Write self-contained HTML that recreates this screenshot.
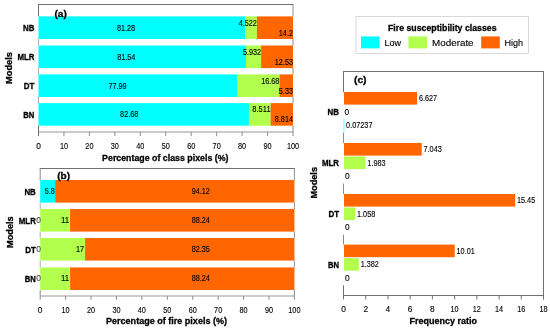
<!DOCTYPE html>
<html><head><meta charset="utf-8"><title>Fire susceptibility classes</title>
<style>
html,body{margin:0;padding:0;background:#fff;}
body{width:550px;height:331px;overflow:hidden;}
svg{display:block;font-family:"Liberation Sans",sans-serif;}
.b{font-weight:bold;fill:#000;stroke:#000;stroke-width:0.3px;}
.r{fill:#000;stroke:#000;stroke-width:0.12px;}
.g{fill:#444;stroke:#444;stroke-width:0.1px;}
</style></head><body>
<svg width="550" height="331" viewBox="0 0 550 331">
<rect x="0" y="0" width="550" height="331" fill="#ffffff"/>
<line x1="38.00" y1="4.50" x2="293.50" y2="4.50" stroke="#6f6f6f" stroke-width="1"/>
<line x1="293.00" y1="4.50" x2="293.00" y2="132.00" stroke="#8c8c8c" stroke-width="1"/>
<line x1="38.50" y1="132.00" x2="293.50" y2="132.00" stroke="#7a7a7a" stroke-width="0.8"/>
<line x1="38.50" y1="4.50" x2="38.50" y2="16.40" stroke="#6f6f6f" stroke-width="1"/>
<line x1="38.50" y1="39.00" x2="38.50" y2="45.50" stroke="#8c8c8c" stroke-width="0.7"/>
<line x1="38.50" y1="68.10" x2="38.50" y2="74.40" stroke="#8c8c8c" stroke-width="0.7"/>
<line x1="38.50" y1="97.00" x2="38.50" y2="103.10" stroke="#8c8c8c" stroke-width="0.7"/>
<line x1="38.50" y1="125.70" x2="38.50" y2="136.00" stroke="#6f6f6f" stroke-width="1"/>
<rect x="292.00" y="16.40" width="2.00" height="22.60" fill="#fff"/>
<rect x="38.50" y="16.40" width="206.86" height="22.60" fill="#00ffff"/>
<rect x="245.36" y="16.40" width="11.51" height="22.60" fill="#b2ff4d"/>
<rect x="256.87" y="16.40" width="36.13" height="22.60" fill="#ff6600"/>
<text x="34.40" y="31.00" font-size="8.4" text-anchor="end" class="b" textLength="11.4" lengthAdjust="spacingAndGlyphs">NB</text>
<text x="126.00" y="30.50" font-size="8.4" text-anchor="middle" class="r" textLength="18.24" lengthAdjust="spacingAndGlyphs">81.28</text>
<text x="256.87" y="25.70" font-size="8.4" text-anchor="end" class="r" textLength="18.24" lengthAdjust="spacingAndGlyphs">4.522</text>
<text x="293.00" y="35.70" font-size="8.4" text-anchor="end" class="r" textLength="14.18" lengthAdjust="spacingAndGlyphs">14.2</text>
<rect x="292.00" y="45.50" width="2.00" height="22.60" fill="#fff"/>
<rect x="38.50" y="45.50" width="207.52" height="22.60" fill="#00ffff"/>
<rect x="246.02" y="45.50" width="15.10" height="22.60" fill="#b2ff4d"/>
<rect x="261.12" y="45.50" width="31.88" height="22.60" fill="#ff6600"/>
<text x="34.40" y="60.10" font-size="8.4" text-anchor="end" class="b" textLength="17.0" lengthAdjust="spacingAndGlyphs">MLR</text>
<text x="126.30" y="59.60" font-size="8.4" text-anchor="middle" class="r" textLength="18.24" lengthAdjust="spacingAndGlyphs">81.54</text>
<text x="261.12" y="54.80" font-size="8.4" text-anchor="end" class="r" textLength="18.24" lengthAdjust="spacingAndGlyphs">5.932</text>
<text x="293.00" y="64.80" font-size="8.4" text-anchor="end" class="r" textLength="18.24" lengthAdjust="spacingAndGlyphs">12.53</text>
<rect x="292.00" y="74.40" width="2.00" height="22.60" fill="#fff"/>
<rect x="38.50" y="74.40" width="198.48" height="22.60" fill="#00ffff"/>
<rect x="236.98" y="74.40" width="42.45" height="22.60" fill="#b2ff4d"/>
<rect x="279.44" y="74.40" width="13.56" height="22.60" fill="#ff6600"/>
<text x="34.40" y="89.00" font-size="8.4" text-anchor="end" class="b" textLength="10.6" lengthAdjust="spacingAndGlyphs">DT</text>
<text x="117.50" y="88.50" font-size="8.4" text-anchor="middle" class="r" textLength="18.24" lengthAdjust="spacingAndGlyphs">77.99</text>
<text x="279.44" y="83.70" font-size="8.4" text-anchor="end" class="r" textLength="18.24" lengthAdjust="spacingAndGlyphs">16.68</text>
<text x="293.00" y="93.70" font-size="8.4" text-anchor="end" class="r" textLength="14.18" lengthAdjust="spacingAndGlyphs">5.33</text>
<rect x="292.00" y="103.10" width="2.00" height="22.60" fill="#fff"/>
<rect x="38.50" y="103.10" width="210.42" height="22.60" fill="#00ffff"/>
<rect x="248.92" y="103.10" width="21.66" height="22.60" fill="#b2ff4d"/>
<rect x="270.58" y="103.10" width="22.42" height="22.60" fill="#ff6600"/>
<text x="34.40" y="117.70" font-size="8.4" text-anchor="end" class="b" textLength="11.1" lengthAdjust="spacingAndGlyphs">BN</text>
<text x="129.20" y="117.20" font-size="8.4" text-anchor="middle" class="r" textLength="18.24" lengthAdjust="spacingAndGlyphs">82.68</text>
<text x="270.58" y="112.40" font-size="8.4" text-anchor="end" class="r" textLength="18.24" lengthAdjust="spacingAndGlyphs">8.511</text>
<text x="293.00" y="122.40" font-size="8.4" text-anchor="end" class="r" textLength="18.24" lengthAdjust="spacingAndGlyphs">8.814</text>
<line x1="63.95" y1="132.00" x2="63.95" y2="136.00" stroke="#8c8c8c" stroke-width="1"/>
<line x1="89.40" y1="132.00" x2="89.40" y2="136.00" stroke="#8c8c8c" stroke-width="1"/>
<line x1="114.85" y1="132.00" x2="114.85" y2="136.00" stroke="#8c8c8c" stroke-width="1"/>
<line x1="140.30" y1="132.00" x2="140.30" y2="136.00" stroke="#8c8c8c" stroke-width="1"/>
<line x1="165.75" y1="132.00" x2="165.75" y2="136.00" stroke="#8c8c8c" stroke-width="1"/>
<line x1="191.20" y1="132.00" x2="191.20" y2="136.00" stroke="#8c8c8c" stroke-width="1"/>
<line x1="216.65" y1="132.00" x2="216.65" y2="136.00" stroke="#8c8c8c" stroke-width="1"/>
<line x1="242.10" y1="132.00" x2="242.10" y2="136.00" stroke="#8c8c8c" stroke-width="1"/>
<line x1="267.55" y1="132.00" x2="267.55" y2="136.00" stroke="#8c8c8c" stroke-width="1"/>
<line x1="293.00" y1="132.00" x2="293.00" y2="136.00" stroke="#8c8c8c" stroke-width="1"/>
<text x="38.50" y="148.80" font-size="8.4" text-anchor="middle" class="r">0</text>
<text x="63.95" y="148.80" font-size="8.4" text-anchor="middle" class="r" textLength="8.11" lengthAdjust="spacingAndGlyphs">10</text>
<text x="89.40" y="148.80" font-size="8.4" text-anchor="middle" class="r" textLength="8.11" lengthAdjust="spacingAndGlyphs">20</text>
<text x="114.85" y="148.80" font-size="8.4" text-anchor="middle" class="r" textLength="8.11" lengthAdjust="spacingAndGlyphs">30</text>
<text x="140.30" y="148.80" font-size="8.4" text-anchor="middle" class="r" textLength="8.11" lengthAdjust="spacingAndGlyphs">40</text>
<text x="165.75" y="148.80" font-size="8.4" text-anchor="middle" class="r" textLength="8.11" lengthAdjust="spacingAndGlyphs">50</text>
<text x="191.20" y="148.80" font-size="8.4" text-anchor="middle" class="r" textLength="8.11" lengthAdjust="spacingAndGlyphs">60</text>
<text x="216.65" y="148.80" font-size="8.4" text-anchor="middle" class="r" textLength="8.11" lengthAdjust="spacingAndGlyphs">70</text>
<text x="242.10" y="148.80" font-size="8.4" text-anchor="middle" class="r" textLength="8.11" lengthAdjust="spacingAndGlyphs">80</text>
<text x="267.55" y="148.80" font-size="8.4" text-anchor="middle" class="r" textLength="8.11" lengthAdjust="spacingAndGlyphs">90</text>
<text x="293.00" y="148.80" font-size="8.4" text-anchor="middle" class="r" textLength="12.17" lengthAdjust="spacingAndGlyphs">100</text>
<text x="165.30" y="160.60" font-size="9.4" text-anchor="middle" class="b" textLength="126.4" lengthAdjust="spacingAndGlyphs">Percentage of class pixels (%)</text>
<text x="54.50" y="16.50" font-size="9.9" text-anchor="start" class="b" textLength="12.3" lengthAdjust="spacingAndGlyphs">(a)</text>
<text transform="translate(11.8,68) rotate(-90)" font-size="9.4" text-anchor="middle" class="b" textLength="32" lengthAdjust="spacingAndGlyphs">Models</text>
<line x1="39.70" y1="168.50" x2="294.90" y2="168.50" stroke="#6f6f6f" stroke-width="1"/>
<line x1="294.40" y1="168.50" x2="294.40" y2="296.00" stroke="#8c8c8c" stroke-width="1"/>
<line x1="40.20" y1="296.00" x2="294.90" y2="296.00" stroke="#9a9a9a" stroke-width="1"/>
<line x1="40.20" y1="168.50" x2="40.20" y2="180.00" stroke="#8c8c8c" stroke-width="1"/>
<line x1="40.20" y1="202.60" x2="40.20" y2="209.00" stroke="#8c8c8c" stroke-width="0.7"/>
<line x1="40.20" y1="231.60" x2="40.20" y2="238.00" stroke="#8c8c8c" stroke-width="0.7"/>
<line x1="40.20" y1="260.60" x2="40.20" y2="267.40" stroke="#8c8c8c" stroke-width="0.7"/>
<line x1="40.20" y1="290.00" x2="40.20" y2="299.80" stroke="#8c8c8c" stroke-width="1"/>
<rect x="293.40" y="180.00" width="2.00" height="22.60" fill="#fff"/>
<rect x="40.20" y="180.00" width="14.95" height="22.60" fill="#00ffff"/>
<rect x="55.15" y="180.00" width="239.25" height="22.60" fill="#ff6600"/>
<text x="35.80" y="194.60" font-size="8.4" text-anchor="end" class="b" textLength="11.4" lengthAdjust="spacingAndGlyphs">NB</text>
<text x="54.85" y="194.00" font-size="8.4" text-anchor="end" class="r" textLength="10.13" lengthAdjust="spacingAndGlyphs">5.8</text>
<text x="200.80" y="194.00" font-size="8.4" text-anchor="middle" class="r" textLength="18.24" lengthAdjust="spacingAndGlyphs">94.12</text>
<rect x="293.40" y="209.00" width="2.00" height="22.60" fill="#fff"/>
<rect x="40.20" y="209.00" width="29.89" height="22.60" fill="#b2ff4d"/>
<rect x="70.09" y="209.00" width="224.31" height="22.60" fill="#ff6600"/>
<text x="35.80" y="223.60" font-size="8.4" text-anchor="end" class="b" textLength="17.0" lengthAdjust="spacingAndGlyphs">MLR</text>
<text x="36.20" y="223.00" font-size="8.4" text-anchor="start" class="g">0</text>
<text x="69.09" y="223.00" font-size="8.4" text-anchor="end" class="r" textLength="8.11" lengthAdjust="spacingAndGlyphs">11</text>
<text x="200.80" y="223.00" font-size="8.4" text-anchor="middle" class="r" textLength="18.24" lengthAdjust="spacingAndGlyphs">88.24</text>
<rect x="293.40" y="238.00" width="2.00" height="22.60" fill="#fff"/>
<rect x="40.20" y="238.00" width="44.87" height="22.60" fill="#b2ff4d"/>
<rect x="85.07" y="238.00" width="209.33" height="22.60" fill="#ff6600"/>
<text x="35.80" y="252.60" font-size="8.4" text-anchor="end" class="b" textLength="10.6" lengthAdjust="spacingAndGlyphs">DT</text>
<text x="36.20" y="252.00" font-size="8.4" text-anchor="start" class="g">0</text>
<text x="84.07" y="252.00" font-size="8.4" text-anchor="end" class="r" textLength="8.11" lengthAdjust="spacingAndGlyphs">17</text>
<text x="200.80" y="252.00" font-size="8.4" text-anchor="middle" class="r" textLength="18.24" lengthAdjust="spacingAndGlyphs">82.35</text>
<rect x="293.40" y="267.40" width="2.00" height="22.60" fill="#fff"/>
<rect x="40.20" y="267.40" width="29.89" height="22.60" fill="#b2ff4d"/>
<rect x="70.09" y="267.40" width="224.31" height="22.60" fill="#ff6600"/>
<text x="35.80" y="282.00" font-size="8.4" text-anchor="end" class="b" textLength="11.1" lengthAdjust="spacingAndGlyphs">BN</text>
<text x="36.20" y="281.40" font-size="8.4" text-anchor="start" class="g">0</text>
<text x="69.09" y="281.40" font-size="8.4" text-anchor="end" class="r" textLength="8.11" lengthAdjust="spacingAndGlyphs">11</text>
<text x="200.80" y="281.40" font-size="8.4" text-anchor="middle" class="r" textLength="18.24" lengthAdjust="spacingAndGlyphs">88.24</text>
<line x1="65.62" y1="296.00" x2="65.62" y2="299.80" stroke="#8c8c8c" stroke-width="1"/>
<line x1="91.04" y1="296.00" x2="91.04" y2="299.80" stroke="#8c8c8c" stroke-width="1"/>
<line x1="116.46" y1="296.00" x2="116.46" y2="299.80" stroke="#8c8c8c" stroke-width="1"/>
<line x1="141.88" y1="296.00" x2="141.88" y2="299.80" stroke="#8c8c8c" stroke-width="1"/>
<line x1="167.30" y1="296.00" x2="167.30" y2="299.80" stroke="#8c8c8c" stroke-width="1"/>
<line x1="192.72" y1="296.00" x2="192.72" y2="299.80" stroke="#8c8c8c" stroke-width="1"/>
<line x1="218.14" y1="296.00" x2="218.14" y2="299.80" stroke="#8c8c8c" stroke-width="1"/>
<line x1="243.56" y1="296.00" x2="243.56" y2="299.80" stroke="#8c8c8c" stroke-width="1"/>
<line x1="268.98" y1="296.00" x2="268.98" y2="299.80" stroke="#8c8c8c" stroke-width="1"/>
<line x1="294.40" y1="296.00" x2="294.40" y2="299.80" stroke="#8c8c8c" stroke-width="1"/>
<text x="40.20" y="312.80" font-size="8.4" text-anchor="middle" class="r">0</text>
<text x="65.62" y="312.80" font-size="8.4" text-anchor="middle" class="r" textLength="8.11" lengthAdjust="spacingAndGlyphs">10</text>
<text x="91.04" y="312.80" font-size="8.4" text-anchor="middle" class="r" textLength="8.11" lengthAdjust="spacingAndGlyphs">20</text>
<text x="116.46" y="312.80" font-size="8.4" text-anchor="middle" class="r" textLength="8.11" lengthAdjust="spacingAndGlyphs">30</text>
<text x="141.88" y="312.80" font-size="8.4" text-anchor="middle" class="r" textLength="8.11" lengthAdjust="spacingAndGlyphs">40</text>
<text x="167.30" y="312.80" font-size="8.4" text-anchor="middle" class="r" textLength="8.11" lengthAdjust="spacingAndGlyphs">50</text>
<text x="192.72" y="312.80" font-size="8.4" text-anchor="middle" class="r" textLength="8.11" lengthAdjust="spacingAndGlyphs">60</text>
<text x="218.14" y="312.80" font-size="8.4" text-anchor="middle" class="r" textLength="8.11" lengthAdjust="spacingAndGlyphs">70</text>
<text x="243.56" y="312.80" font-size="8.4" text-anchor="middle" class="r" textLength="8.11" lengthAdjust="spacingAndGlyphs">80</text>
<text x="268.98" y="312.80" font-size="8.4" text-anchor="middle" class="r" textLength="8.11" lengthAdjust="spacingAndGlyphs">90</text>
<text x="294.40" y="312.80" font-size="8.4" text-anchor="middle" class="r" textLength="12.17" lengthAdjust="spacingAndGlyphs">100</text>
<text x="166.50" y="324.40" font-size="9.4" text-anchor="middle" class="b" textLength="121" lengthAdjust="spacingAndGlyphs">Percentage of fire pixels (%)</text>
<text x="57.20" y="178.50" font-size="9.9" text-anchor="start" class="b" textLength="12.8" lengthAdjust="spacingAndGlyphs">(b)</text>
<text transform="translate(13.1,232.1) rotate(-90)" font-size="9.4" text-anchor="middle" class="b" textLength="31.6" lengthAdjust="spacingAndGlyphs">Models</text>
<rect x="356" y="16.5" width="172.5" height="37" fill="#fff" stroke="#d9d9d9" stroke-width="1"/>
<text x="442.30" y="31.00" font-size="9.4" text-anchor="middle" class="b" textLength="108.6" lengthAdjust="spacingAndGlyphs">Fire susceptibility classes</text>
<rect x="361.00" y="36.40" width="18.60" height="12.00" fill="#00ffff"/>
<text x="384.40" y="45.60" font-size="9.0" text-anchor="start" class="r" textLength="16.6" lengthAdjust="spacingAndGlyphs">Low</text>
<rect x="408.40" y="36.40" width="18.60" height="12.00" fill="#b2ff4d"/>
<text x="432.00" y="45.60" font-size="9.0" text-anchor="start" class="r" textLength="41.6" lengthAdjust="spacingAndGlyphs">Moderate</text>
<rect x="481.20" y="36.40" width="18.60" height="12.00" fill="#ff6600"/>
<text x="504.40" y="45.60" font-size="9.0" text-anchor="start" class="r" textLength="18.6" lengthAdjust="spacingAndGlyphs">High</text>
<line x1="343.00" y1="71.50" x2="544.00" y2="71.50" stroke="#6f6f6f" stroke-width="1"/>
<line x1="543.50" y1="71.50" x2="543.50" y2="299.40" stroke="#6f6f6f" stroke-width="1"/>
<line x1="343.50" y1="295.50" x2="543.50" y2="295.50" stroke="#6f6f6f" stroke-width="1"/>
<line x1="343.50" y1="71.50" x2="343.50" y2="92.00" stroke="#6f6f6f" stroke-width="1"/>
<line x1="343.50" y1="132.50" x2="343.50" y2="143.00" stroke="#6f6f6f" stroke-width="0.8"/>
<line x1="343.50" y1="183.50" x2="343.50" y2="194.00" stroke="#6f6f6f" stroke-width="0.8"/>
<line x1="343.50" y1="234.50" x2="343.50" y2="244.60" stroke="#6f6f6f" stroke-width="0.8"/>
<line x1="343.50" y1="285.30" x2="343.50" y2="299.40" stroke="#6f6f6f" stroke-width="1"/>
<rect x="344.00" y="92.00" width="73.13" height="12.60" fill="#ff6600"/>
<text x="418.93" y="101.00" font-size="8.4" text-anchor="start" class="r" textLength="18.24" lengthAdjust="spacingAndGlyphs">6.627</text>
<text x="344.50" y="114.50" font-size="8.4" text-anchor="start" class="r">0</text>
<rect x="343.30" y="119.00" width="1.30" height="12.60" fill="#8ff"/>
<text x="346.10" y="128.00" font-size="8.4" text-anchor="start" class="r" textLength="26.35" lengthAdjust="spacingAndGlyphs">0.07237</text>
<text x="339.00" y="115.10" font-size="8.4" text-anchor="end" class="b" textLength="11.4" lengthAdjust="spacingAndGlyphs">NB</text>
<rect x="344.00" y="143.00" width="77.76" height="12.60" fill="#ff6600"/>
<text x="423.56" y="152.00" font-size="8.4" text-anchor="start" class="r" textLength="18.24" lengthAdjust="spacingAndGlyphs">7.043</text>
<rect x="344.00" y="156.50" width="21.53" height="12.60" fill="#b2ff4d"/>
<text x="367.33" y="165.50" font-size="8.4" text-anchor="start" class="r" textLength="18.24" lengthAdjust="spacingAndGlyphs">1.983</text>
<text x="344.90" y="179.00" font-size="8.4" text-anchor="start" class="r">0</text>
<text x="339.00" y="166.10" font-size="8.4" text-anchor="end" class="b" textLength="17.0" lengthAdjust="spacingAndGlyphs">MLR</text>
<rect x="344.00" y="194.00" width="171.17" height="12.60" fill="#ff6600"/>
<text x="516.97" y="203.00" font-size="8.4" text-anchor="start" class="r" textLength="18.24" lengthAdjust="spacingAndGlyphs">15.45</text>
<rect x="344.00" y="207.50" width="11.26" height="12.60" fill="#b2ff4d"/>
<text x="357.06" y="216.50" font-size="8.4" text-anchor="start" class="r" textLength="18.24" lengthAdjust="spacingAndGlyphs">1.058</text>
<text x="344.90" y="230.00" font-size="8.4" text-anchor="start" class="r">0</text>
<text x="339.00" y="217.10" font-size="8.4" text-anchor="end" class="b" textLength="10.6" lengthAdjust="spacingAndGlyphs">DT</text>
<rect x="344.00" y="244.60" width="110.72" height="12.60" fill="#ff6600"/>
<text x="456.52" y="253.60" font-size="8.4" text-anchor="start" class="r" textLength="18.24" lengthAdjust="spacingAndGlyphs">10.01</text>
<rect x="344.00" y="258.10" width="14.86" height="12.60" fill="#b2ff4d"/>
<text x="360.66" y="267.10" font-size="8.4" text-anchor="start" class="r" textLength="18.24" lengthAdjust="spacingAndGlyphs">1.382</text>
<text x="344.90" y="280.60" font-size="8.4" text-anchor="start" class="r">0</text>
<text x="339.00" y="267.70" font-size="8.4" text-anchor="end" class="b" textLength="11.1" lengthAdjust="spacingAndGlyphs">BN</text>
<line x1="365.72" y1="295.50" x2="365.72" y2="299.40" stroke="#6f6f6f" stroke-width="1"/>
<line x1="387.94" y1="295.50" x2="387.94" y2="299.40" stroke="#6f6f6f" stroke-width="1"/>
<line x1="410.17" y1="295.50" x2="410.17" y2="299.40" stroke="#6f6f6f" stroke-width="1"/>
<line x1="432.39" y1="295.50" x2="432.39" y2="299.40" stroke="#6f6f6f" stroke-width="1"/>
<line x1="454.61" y1="295.50" x2="454.61" y2="299.40" stroke="#6f6f6f" stroke-width="1"/>
<line x1="476.83" y1="295.50" x2="476.83" y2="299.40" stroke="#6f6f6f" stroke-width="1"/>
<line x1="499.06" y1="295.50" x2="499.06" y2="299.40" stroke="#6f6f6f" stroke-width="1"/>
<line x1="521.28" y1="295.50" x2="521.28" y2="299.40" stroke="#6f6f6f" stroke-width="1"/>
<line x1="543.50" y1="295.50" x2="543.50" y2="299.40" stroke="#6f6f6f" stroke-width="1"/>
<text x="343.50" y="311.90" font-size="8.4" text-anchor="middle" class="r">0</text>
<text x="365.72" y="311.90" font-size="8.4" text-anchor="middle" class="r">2</text>
<text x="387.94" y="311.90" font-size="8.4" text-anchor="middle" class="r">4</text>
<text x="410.17" y="311.90" font-size="8.4" text-anchor="middle" class="r">6</text>
<text x="432.39" y="311.90" font-size="8.4" text-anchor="middle" class="r">8</text>
<text x="454.61" y="311.90" font-size="8.4" text-anchor="middle" class="r" textLength="8.11" lengthAdjust="spacingAndGlyphs">10</text>
<text x="476.83" y="311.90" font-size="8.4" text-anchor="middle" class="r" textLength="8.11" lengthAdjust="spacingAndGlyphs">12</text>
<text x="499.06" y="311.90" font-size="8.4" text-anchor="middle" class="r" textLength="8.11" lengthAdjust="spacingAndGlyphs">14</text>
<text x="521.28" y="311.90" font-size="8.4" text-anchor="middle" class="r" textLength="8.11" lengthAdjust="spacingAndGlyphs">16</text>
<text x="543.50" y="311.90" font-size="8.4" text-anchor="middle" class="r" textLength="8.11" lengthAdjust="spacingAndGlyphs">18</text>
<text x="443.30" y="324.40" font-size="9.4" text-anchor="middle" class="b" textLength="67.6" lengthAdjust="spacingAndGlyphs">Frequency ratio</text>
<text x="354.00" y="82.90" font-size="9.9" text-anchor="start" class="b" textLength="12.5" lengthAdjust="spacingAndGlyphs">(c)</text>
<text transform="translate(317.2,182.8) rotate(-90)" font-size="9.4" text-anchor="middle" class="b" textLength="31.6" lengthAdjust="spacingAndGlyphs">Models</text>
</svg>
</body></html>
